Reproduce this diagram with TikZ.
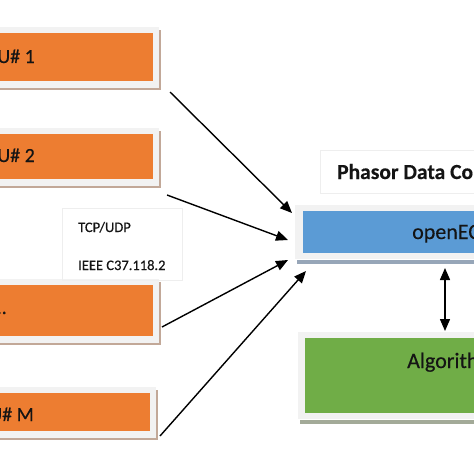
\documentclass[tikz,border=0pt]{standalone}
\usepackage{fontspec}
\setmainfont{Carlito}[FakeBold=0.35]
\usetikzlibrary{arrows.meta}
\definecolor{pmuorange}{HTML}{ED7D31}
\definecolor{pdcblue}{HTML}{5B9BD5}
\definecolor{alggreen}{HTML}{70AD47}
\definecolor{framegray}{HTML}{F2F2F2}
\definecolor{shadeorange}{HTML}{C2A898}
\definecolor{shadeblue}{HTML}{97A6B8}
\definecolor{shadegreen}{HTML}{A3AA98}
\definecolor{txt}{HTML}{141414}
\definecolor{faint}{HTML}{EEEEEE}
\tikzset{
  boxfill/.style={draw=none, inner sep=0pt, outer sep=0pt},
  lbl/.style={inner sep=0pt, text=txt},
  conn/.style={line width=1.4pt, -{Triangle[length=12pt,width=10pt]}},
  dconn/.style={line width=1.4pt, {Triangle[length=12pt,width=10pt]}-{Triangle[length=12pt,width=10pt]}},
  big/.style={font=\fontsize{20}{24}\selectfont},
}
\begin{document}
\begin{tikzpicture}[x=1pt,y=-1pt]
\useasboundingbox (0,0) rectangle (474,474);
\clip (0,0) rectangle (474,474);
\fill[white] (0,0) rectangle (474,474);

% ---- PMU boxes: shadow, frame, orange body
\foreach \t/\b/\r in {33/81/153, 134/179/153, 285/336/153, 393/431/150}{
  \fill[shadeorange] (-10,\t-3) rectangle (\r+8,\b+9);
  \fill[framegray] (-10,\t-6) rectangle (\r+6,\b+7);
}
\node[boxfill, fill=pmuorange, minimum width=163pt, minimum height=48pt, anchor=north west] (p1) at (-10,33) {};
\node[boxfill, fill=pmuorange, minimum width=163pt, minimum height=45pt, anchor=north west] (p2) at (-10,134) {};
\node[boxfill, fill=pmuorange, minimum width=163pt, minimum height=51pt, anchor=north west] (p3) at (-10,285) {};
\node[boxfill, fill=pmuorange, minimum width=160pt, minimum height=38pt, anchor=north west] (p4) at (-10,393) {};

\node[lbl, big, anchor=base east] (t1) at (35,63) {PMU\# 1};
\node[lbl, big, anchor=base east] (t2) at (35,162) {PMU\# 2};
\node[lbl, big, anchor=base east] (t3) at (7,314) {......};
\node[lbl, big, anchor=base east] (t4) at (34,421) {PMU\# M};

% ---- protocol box
\node[boxfill, draw=faint, line width=0.8pt, minimum width=120pt, minimum height=72pt, anchor=north west] (proto) at (62,208) {};
\node[lbl, font=\fontsize{14.5}{17}\selectfont, anchor=base west] (tcp) at (78,232) {TCP/UDP};
\node[lbl, font=\fontsize{14.5}{17}\selectfont, anchor=base west] (ieee) at (78,270) {IEEE C37.118.2};

% ---- PDC title box
\node[boxfill, draw=faint, line width=0.8pt, minimum width=170pt, minimum height=43pt, anchor=north west] (pdcbox) at (320,150) {};
\node[lbl, font=\fontsize{21.5}{25}\selectfont\bfseries, anchor=base west] (pdc) at (337,179) {Phasor Data Concentrator};

% ---- openECA box
\fill[shadeblue] (297,260) rectangle (480,264);
\fill[framegray] (295,205) rectangle (480,259);
\node[boxfill, fill=pdcblue, minimum width=177pt, minimum height=42pt, anchor=north west] (eca) at (303,211) {};
\node[lbl, font=\fontsize{22}{26}\selectfont, anchor=base west] (ecat) at (412,239) {openECA};

% ---- Algorithm box
\fill[shadegreen] (300,420) rectangle (480,424);
\fill[framegray] (298,332) rectangle (480,419);
\node[boxfill, fill=alggreen, minimum width=175pt, minimum height=75pt, anchor=north west] (alg) at (305,338) {};
\node[lbl, font=\fontsize{22}{26}\selectfont, anchor=base west] (algt) at (407,368) {Algorithm};

% ---- connectors
\coordinate (s1) at (170,92);  \coordinate (e1) at (292,213);
\coordinate (s2) at (167,195); \coordinate (e2) at (288,240);
\coordinate (s3) at (162,327); \coordinate (e3) at (288,260);
\coordinate (s4) at (160,436); \coordinate (e4) at (306,271);
\coordinate (u) at (445,268);  \coordinate (d) at (445,331);
\draw[conn] (s1) -- (e1);
\draw[conn] (s2) -- (e2);
\draw[conn] (s3) -- (e3);
\draw[conn] (s4) -- (e4);
\draw[dconn] (u) -- (d);
\end{tikzpicture}
\end{document}
